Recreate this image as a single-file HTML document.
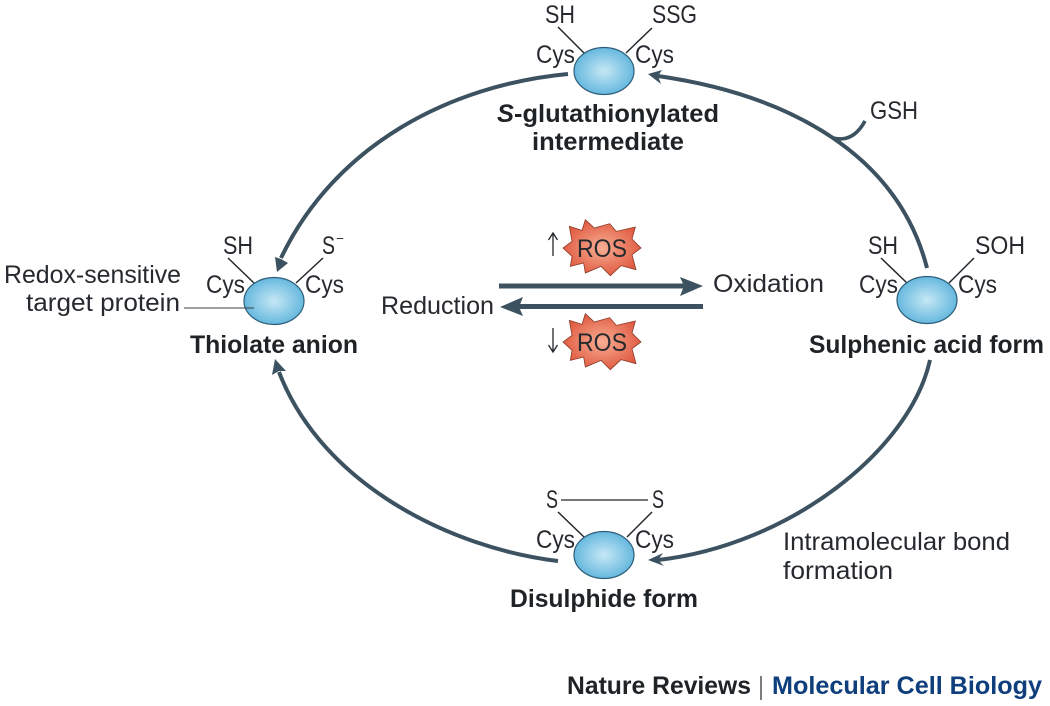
<!DOCTYPE html>
<html lang="en">
<head>
<meta charset="utf-8">
<title>Redox cycle</title>
<style>
html,body{margin:0;padding:0;background:#fff;}
body{width:1050px;height:706px;overflow:hidden;}
svg{display:block;}
text{font-family:"Liberation Sans",sans-serif;fill:#262a2e;font-size:25px;}
.b{font-weight:bold;font-size:25px;fill:#1f2326;}
.c{fill:none;stroke:#3c5260;stroke-width:4;}
.l{stroke:#23282c;stroke-width:1.5;fill:none;}
.a{fill:#3c5260;}
</style>
</head>
<body>
<svg width="1050" height="706" viewBox="0 0 1050 706" xmlns="http://www.w3.org/2000/svg">
<defs>
<radialGradient id="blue" cx="50%" cy="50%" r="55%">
<stop offset="0" stop-color="#c6e8f5"/>
<stop offset="1" stop-color="#5db3dc"/>
</radialGradient>
<radialGradient id="red" cx="50%" cy="50%" r="55%">
<stop offset="0" stop-color="#f8ae94"/>
<stop offset="1" stop-color="#de563c"/>
</radialGradient>
<polygon id="star" points="645,30 672,55 718,42 738,65 795,52 785,88 812,115 785,135 797,180 752,168 720,198 692,170 645,190 640,160 600,170 605,140 578,115 605,95 597,50 635,62" fill="url(#red)" stroke="#8a3a28" stroke-width="2.4"/>
</defs>

<!-- cycle curves -->
<path class="c" d="M568,74 C450,85 335,145 281,258"/>
<polygon class="a" points="277,272 275,257 281,259 288,263"/>
<path class="c" d="M927,268 C898,155 790,95 658,76"/>
<polygon class="a" points="648,74 662,70 658,76 661,84"/>
<path class="c" d="M930,360 C910,450 790,545 658,560"/>
<polygon class="a" points="648,560 663,553 658,560 664,566"/>
<path class="c" d="M558,561 C450,548 322,484 279,372"/>
<polygon class="a" points="275,359 272,375 279,371 286,371"/>
<path class="c" d="M865,121 Q853,143 833,138" style="stroke-width:3.6"/>

<!-- center arrows -->
<rect class="a" x="499" y="283.500" width="185" height="5"/>
<polygon class="a" points="703,286 680,277 684,286 680,296"/>
<rect class="a" x="518" y="304" width="185" height="5"/>
<polygon class="a" points="500,307 523,297 519,307 523,316"/>
<use href="#star" transform="translate(602,248) scale(.3333) translate(-695,-115)"/>
<use href="#star" transform="translate(602,342) scale(.3333) translate(-695,-115)"/>
<text x="577" y="257" textLength="50" lengthAdjust="spacingAndGlyphs">ROS</text>
<text x="577" y="351" textLength="50" lengthAdjust="spacingAndGlyphs">ROS</text>
<path d="M553,256 V234 M548.500,240 L553,233 L557.500,240" class="l" style="stroke-width:1.3"/>
<path d="M553,328 V351 M548.500,345 L553,352 L557.500,345" class="l" style="stroke-width:1.3"/>
<text x="381" y="314" textLength="113" lengthAdjust="spacingAndGlyphs">Reduction</text>
<text x="713" y="292" textLength="111" lengthAdjust="spacingAndGlyphs">Oxidation</text>

<!-- top node -->
<path class="l" d="M558,27 L584,53 M652,28 L626,53"/>
<ellipse cx="604" cy="71" rx="30" ry="23.500" fill="url(#blue)" stroke="#2f5f78" stroke-width="1.2"/>
<text x="545" y="23" textLength="30" lengthAdjust="spacingAndGlyphs">SH</text>
<text x="652" y="23" textLength="45" lengthAdjust="spacingAndGlyphs">SSG</text>
<text x="536" y="63" textLength="39" lengthAdjust="spacingAndGlyphs">Cys</text>
<text x="635" y="63" textLength="39" lengthAdjust="spacingAndGlyphs">Cys</text>
<text class="b" x="497" y="122" textLength="222" lengthAdjust="spacingAndGlyphs"><tspan font-style="italic">S</tspan>-glutathionylated</text>
<text class="b" x="532" y="150" textLength="152" lengthAdjust="spacingAndGlyphs">intermediate</text>
<text x="870" y="119" textLength="48" lengthAdjust="spacingAndGlyphs">GSH</text>

<!-- left node -->
<path class="l" d="M228,258 L254,283 M323,258 L296,283"/>
<ellipse cx="274" cy="301" rx="30" ry="23.500" fill="url(#blue)" stroke="#2f5f78" stroke-width="1.2"/>
<path d="M184,308 H254" stroke="#3a4045" stroke-width="1.1" fill="none"/>
<text x="223" y="254" textLength="30" lengthAdjust="spacingAndGlyphs">SH</text>
<text x="322" y="254" textLength="13" lengthAdjust="spacingAndGlyphs">S</text>
<text x="336" y="243" style="font-size:13px" textLength="8" lengthAdjust="spacingAndGlyphs">−</text>
<text x="206" y="293" textLength="39" lengthAdjust="spacingAndGlyphs">Cys</text>
<text x="305" y="293" textLength="39" lengthAdjust="spacingAndGlyphs">Cys</text>
<text x="4" y="283" textLength="177" lengthAdjust="spacingAndGlyphs">Redox-sensitive</text>
<text x="26" y="311" textLength="154" lengthAdjust="spacingAndGlyphs">target protein</text>
<text class="b" x="190" y="353" textLength="168" lengthAdjust="spacingAndGlyphs">Thiolate anion</text>

<!-- right node -->
<path class="l" d="M881,258 L907,283 M974,258 L949,283"/>
<ellipse cx="927" cy="300" rx="30" ry="23.500" fill="url(#blue)" stroke="#2f5f78" stroke-width="1.2"/>
<text x="868" y="254" textLength="30" lengthAdjust="spacingAndGlyphs">SH</text>
<text x="975" y="254" textLength="50" lengthAdjust="spacingAndGlyphs">SOH</text>
<text x="859" y="293" textLength="39" lengthAdjust="spacingAndGlyphs">Cys</text>
<text x="958" y="293" textLength="39" lengthAdjust="spacingAndGlyphs">Cys</text>
<text class="b" x="809" y="353" textLength="235" lengthAdjust="spacingAndGlyphs">Sulphenic acid form</text>

<!-- bottom node -->
<path class="l" d="M561,500 H648" style="stroke-width:1.2"/>
<path class="l" d="M558,512 L584,537 M652,512 L627,537"/>
<ellipse cx="604" cy="555" rx="30" ry="23.500" fill="url(#blue)" stroke="#2f5f78" stroke-width="1.2"/>
<text x="546" y="508" textLength="12" lengthAdjust="spacingAndGlyphs">S</text>
<text x="652" y="508" textLength="12" lengthAdjust="spacingAndGlyphs">S</text>
<text x="536" y="548" textLength="39" lengthAdjust="spacingAndGlyphs">Cys</text>
<text x="635" y="548" textLength="39" lengthAdjust="spacingAndGlyphs">Cys</text>
<text class="b" x="510" y="607" textLength="188" lengthAdjust="spacingAndGlyphs">Disulphide form</text>
<text x="783" y="550" textLength="227" lengthAdjust="spacingAndGlyphs">Intramolecular bond</text>
<text x="783" y="579" textLength="110" lengthAdjust="spacingAndGlyphs">formation</text>

<!-- credit -->
<text class="b" x="567" y="694" textLength="184" lengthAdjust="spacingAndGlyphs">Nature Reviews</text>
<path d="M761,676 V700" stroke="#33383c" stroke-width="1.3"/>
<text class="b" x="772" y="694" textLength="270" lengthAdjust="spacingAndGlyphs" style="fill:#0e3f7c">Molecular Cell Biology</text>
</svg>
</body>
</html>
